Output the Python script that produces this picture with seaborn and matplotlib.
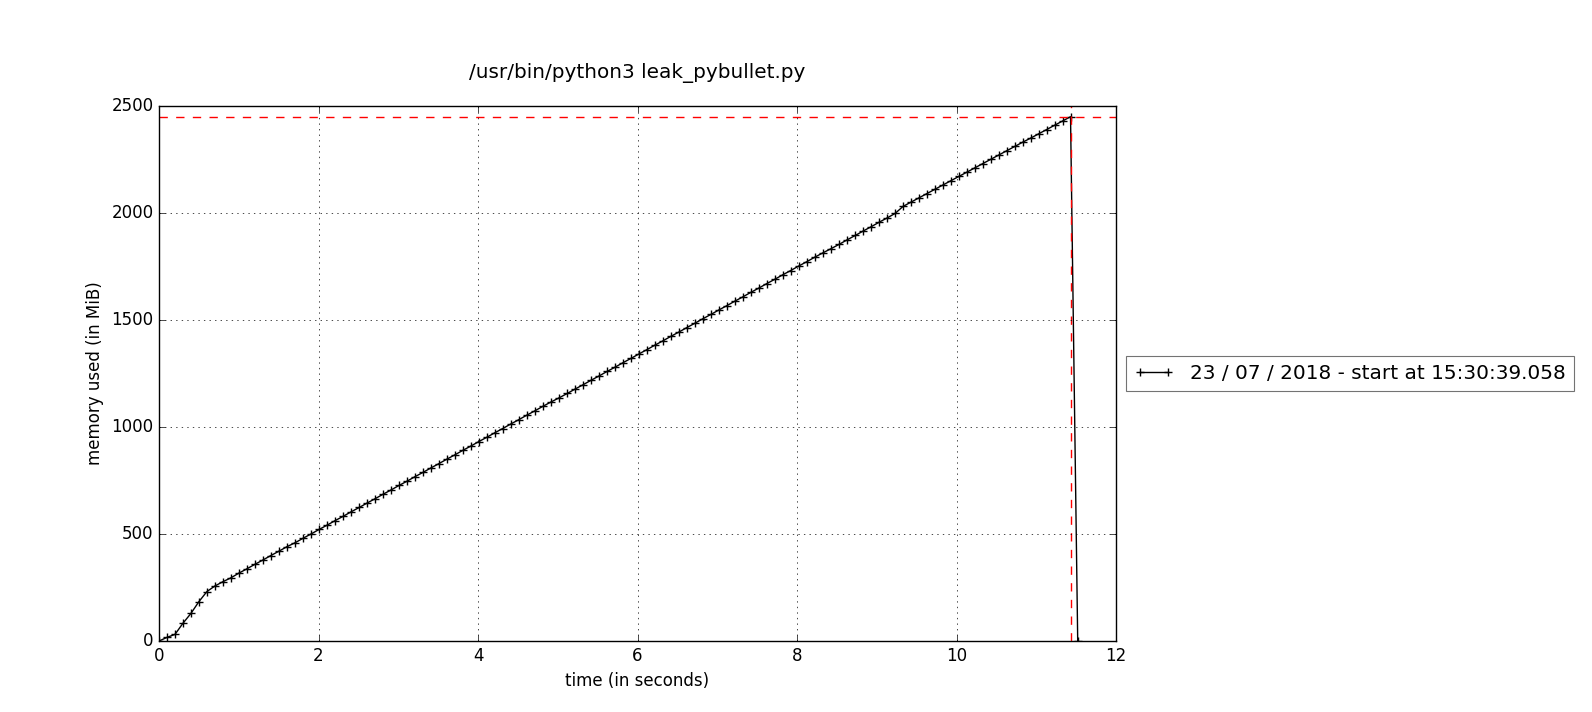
import numpy as np
import pandas as pd
import matplotlib
matplotlib.use("Agg")
import matplotlib.pyplot as plt
import seaborn as sns

# sample times (s) and memory readings (MiB)
times = [
    0.00, 0.10, 0.20, 0.30, 0.40, 0.50, 0.60, 0.70, 0.80, 0.90,
    1.00, 1.10, 1.20, 1.30, 1.40, 1.50, 1.60,
    1.71, 1.81, 1.91, 2.01, 2.11, 2.21, 2.31, 2.41, 2.51, 2.61,
    2.71, 2.81, 2.91, 3.01, 3.11, 3.21, 3.31, 3.41, 3.51, 3.61,
    3.71, 3.81, 3.91, 4.01, 4.11, 4.21, 4.31, 4.41, 4.51, 4.61,
    4.71, 4.81, 4.91,
    5.02, 5.12, 5.22, 5.32, 5.42, 5.52, 5.62, 5.72, 5.82, 5.92,
    6.02, 6.12, 6.22, 6.32, 6.42, 6.52, 6.62, 6.72, 6.82, 6.92,
    7.02, 7.12, 7.22, 7.32, 7.42, 7.52, 7.62, 7.72, 7.82, 7.92,
    8.02, 8.12, 8.22, 8.32,
    8.43, 8.53, 8.63, 8.73, 8.83, 8.93, 9.03, 9.13, 9.23, 9.33,
    9.43, 9.53, 9.63, 9.73, 9.83, 9.93, 10.03, 10.13, 10.23, 10.33,
    10.43, 10.53, 10.63, 10.73, 10.83, 10.93, 11.03, 11.13, 11.23, 11.33,
    11.43, 11.52,
]
mem_used = [
    0, 17, 31, 83, 129, 184, 231, 257, 277, 295,
    317, 337, 358, 378, 399, 419, 440, 460, 481, 501,
    522, 542, 563, 583, 604, 624, 645, 665, 686, 706,
    727, 747, 768, 788, 809, 829, 850, 870, 891, 911,
    932, 952, 973, 993, 1014, 1034, 1055, 1075, 1096, 1116,
    1137, 1157, 1178, 1198, 1219, 1239, 1260, 1280, 1301, 1321,
    1342, 1362, 1383, 1403, 1424, 1444, 1465, 1485, 1506, 1526,
    1547, 1567, 1588, 1608, 1629, 1649, 1670, 1690, 1711, 1731,
    1752, 1772, 1793, 1813, 1834, 1854, 1875, 1895, 1916, 1936,
    1957, 1977, 1998,
    2031, 2051, 2071, 2091, 2111, 2131, 2151, 2171, 2191, 2211,
    2231, 2251, 2271, 2291, 2311, 2331, 2350, 2370, 2390, 2410,
    2430, 2450,
    0,
]
run_label = "23 / 07 / 2018 - start at 15:30:39.058"
title = "/usr/bin/python3 leak_pybullet.py"

plt.style.use("classic")
plt.rcParams["figure.facecolor"] = "white"
plt.rcParams["savefig.facecolor"] = "white"

df = pd.DataFrame({"time": times, "mem": mem_used})

fig = plt.figure(figsize=(15.92, 7.12), dpi=100)
ax = fig.add_axes([0.0999, 0.0997, 0.6011, 0.7514])

sns.lineplot(data=df, x="time", y="mem", ax=ax, color="k", marker="+",
             markersize=6, markeredgecolor="k", markeredgewidth=1,
             linewidth=1, label=run_label)

# max memory markers
peak = max(mem_used)
peak_t = times[mem_used.index(peak)]
ax.axhline(peak, color="r", linestyle="--", linewidth=1)
ax.axvline(peak_t, color="r", linestyle="--", linewidth=1)

ax.set_xlim(0, 12)
ax.set_ylim(0, 2500)
ax.set_xticks(range(0, 13, 2))
ax.set_yticks(range(0, 2501, 500))
ax.grid(True)
ax.set_xlabel("time (in seconds)")
ax.set_ylabel("memory used (in MiB)")
ax.set_title(title, fontsize="large", pad=20)
leg = ax.legend(loc="center left", bbox_to_anchor=(1.0, 0.5), fontsize="large")
leg.get_frame().set_edgecolor("0.45")
leg.get_frame().set_linewidth(0.8)

fig.savefig("out.png", dpi=100)
